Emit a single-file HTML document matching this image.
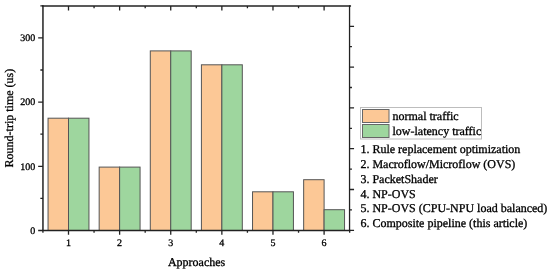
<!DOCTYPE html>
<html><head><meta charset="utf-8"><style>
html,body{margin:0;padding:0;background:#fff;}
body{width:550px;height:272px;overflow:hidden;}
svg{display:block;}
text{font-family:"Liberation Serif","Times New Roman",serif;fill:#000;stroke:#000;stroke-width:0.3px;text-rendering:geometricPrecision;}
</style></head><body>
<svg width="550" height="272" viewBox="0 0 550 272">
<rect x="48.05" y="118.20" width="20.45" height="112.30" fill="#FCC896" stroke="#555555" stroke-width="1"/>
<rect x="68.50" y="118.20" width="20.45" height="112.30" fill="#9ED69E" stroke="#555555" stroke-width="1"/>
<rect x="99.17" y="167.10" width="20.45" height="63.40" fill="#FCC896" stroke="#555555" stroke-width="1"/>
<rect x="119.62" y="167.10" width="20.45" height="63.40" fill="#9ED69E" stroke="#555555" stroke-width="1"/>
<rect x="150.29" y="50.90" width="20.45" height="179.60" fill="#FCC896" stroke="#555555" stroke-width="1"/>
<rect x="170.74" y="50.90" width="20.45" height="179.60" fill="#9ED69E" stroke="#555555" stroke-width="1"/>
<rect x="201.41" y="64.80" width="20.45" height="165.70" fill="#FCC896" stroke="#555555" stroke-width="1"/>
<rect x="221.86" y="64.80" width="20.45" height="165.70" fill="#9ED69E" stroke="#555555" stroke-width="1"/>
<rect x="252.53" y="191.80" width="20.45" height="38.70" fill="#FCC896" stroke="#555555" stroke-width="1"/>
<rect x="272.98" y="191.80" width="20.45" height="38.70" fill="#9ED69E" stroke="#555555" stroke-width="1"/>
<rect x="303.65" y="179.70" width="20.45" height="50.80" fill="#FCC896" stroke="#555555" stroke-width="1"/>
<rect x="324.10" y="209.70" width="20.45" height="20.80" fill="#9ED69E" stroke="#555555" stroke-width="1"/>
<path d="M42.95,5.30 V231.10" stroke="#222" stroke-width="1.5" fill="none"/>
<path d="M349.55,5.30 V231.10" stroke="#222" stroke-width="1.3" fill="none"/>
<path d="M42.20,6.00 H351.05" stroke="#222" stroke-width="1.5" fill="none"/>
<path d="M42.20,230.50 H350.20" stroke="#222" stroke-width="1.3" fill="none"/>
<path d="M38.15,230.50 H42.95 M40.35,198.40 H42.95 M38.15,166.30 H42.95 M40.35,134.20 H42.95 M38.15,102.10 H42.95 M40.35,70.00 H42.95 M38.15,37.90 H42.95 M40.35,5.80 H42.95 M68.50,230.50 V234.80 M42.94,230.50 V232.80 M94.06,230.50 V232.80 M119.62,230.50 V234.80 M145.18,230.50 V232.80 M170.74,230.50 V234.80 M196.30,230.50 V232.80 M221.86,230.50 V234.80 M247.42,230.50 V232.80 M272.98,230.50 V234.80 M298.54,230.50 V232.80 M324.10,230.50 V234.80 M349.66,230.50 V232.80 M68.50,6.00 V10.50 M94.06,6.00 V8.30 M119.62,6.00 V10.50 M145.18,6.00 V8.30 M170.74,6.00 V10.50 M196.30,6.00 V8.30 M221.86,6.00 V10.50 M247.42,6.00 V8.30 M272.98,6.00 V10.50 M298.54,6.00 V8.30 M324.10,6.00 V10.50 M349.55,26.30 H354.05 M349.55,46.70 H351.95 M349.55,67.10 H354.05 M349.55,87.50 H351.95 M349.55,107.90 H354.05 M349.55,128.30 H351.95 M349.55,148.70 H354.05 M349.55,169.10 H351.95 M349.55,189.50 H354.05 M349.55,209.90 H351.95 M349.55,230.30 H354.05" stroke="#222" stroke-width="1.3" fill="none"/>
<text x="35.2" y="233.70" text-anchor="end" font-size="10">0</text>
<text x="35.2" y="169.50" text-anchor="end" font-size="10">100</text>
<text x="35.2" y="105.30" text-anchor="end" font-size="10">200</text>
<text x="35.2" y="41.10" text-anchor="end" font-size="10">300</text>
<text x="68.50" y="245.7" text-anchor="middle" font-size="10">1</text>
<text x="119.62" y="245.7" text-anchor="middle" font-size="10">2</text>
<text x="170.74" y="245.7" text-anchor="middle" font-size="10">3</text>
<text x="221.86" y="245.7" text-anchor="middle" font-size="10">4</text>
<text x="272.98" y="245.7" text-anchor="middle" font-size="10">5</text>
<text x="324.10" y="245.7" text-anchor="middle" font-size="10">6</text>
<text x="196.6" y="265.5" text-anchor="middle" font-size="12">Approaches</text>
<text transform="translate(12.6,118.1) rotate(-90)" text-anchor="middle" font-size="12">Round-trip time (us)</text>
<rect x="360.5" y="107.5" width="121" height="31.5" fill="#fff" stroke="#bdbdbd" stroke-width="1"/>
<rect x="362.5" y="109.5" width="26.5" height="13" fill="#FCC896" stroke="#666" stroke-width="1"/>
<rect x="362.5" y="124.5" width="26.5" height="13" fill="#9ED69E" stroke="#666" stroke-width="1"/>
<text x="392.5" y="119.7" font-size="12">normal traffic</text>
<text x="392.5" y="134.7" font-size="12">low-latency traffic</text>
<text x="360.4" y="153.30" font-size="12">1. Rule replacement optimization</text>
<text x="360.4" y="168.08" font-size="12">2. Macroflow/Microflow (OVS)</text>
<text x="360.4" y="182.86" font-size="12">3. PacketShader</text>
<text x="360.4" y="197.64" font-size="12">4. NP-OVS</text>
<text x="360.4" y="212.42" font-size="12">5. NP-OVS (CPU-NPU load balanced)</text>
<text x="360.4" y="227.20" font-size="12">6. Composite pipeline (this article)</text>
</svg>
</body></html>
